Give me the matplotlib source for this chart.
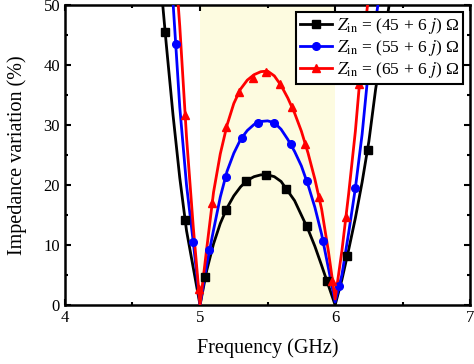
import matplotlib

matplotlib.use("Agg")
import matplotlib.pyplot as plt
from matplotlib.ticker import MultipleLocator

plt.rcParams["font.family"] = ["Liberation Serif", "DejaVu Serif"]
plt.rcParams["mathtext.fontset"] = "stix"

# ---------------------------------------------------------------- data
LABELS = [r"$Z_\mathrm{in}$ = (45 + 6 $j$) Ω",
          r"$Z_\mathrm{in}$ = (55 + 6 $j$) Ω",
          r"$Z_\mathrm{in}$ = (65 + 6 $j$) Ω"]

# curve 45+6j
F45 = [4.70, 4.75, 4.80, 4.85, 4.90, 4.95, 5.00, 5.05, 5.10, 5.15, 5.20, 5.25, 5.30, 5.35, 5.40,
       5.45, 5.50, 5.55, 5.60, 5.65, 5.70, 5.75, 5.80, 5.85, 5.90, 5.95, 6.00, 6.05, 6.10, 6.15,
       6.20, 6.25, 6.30, 6.35, 6.40, 6.45]
V45 = [56.0, 43.5, 31.7, 21.2, 12.4, 6.2, 0.0, 5.8, 10.2, 13.6, 16.2, 18.2, 19.7, 20.8, 21.4,
       21.7, 21.7, 21.4, 20.6, 19.0, 17.4, 15.0, 12.6, 9.8, 6.6, 3.3, 0.0, 4.2, 9.2, 14.5,
       20.5, 27.3, 36.0, 43.0, 50.0, 57.0]
MF45 = [4.74, 4.89, 5.04, 5.19, 5.34, 5.49, 5.64, 5.79, 5.94, 6.09, 6.24]
MV45 = [45.5, 14.2, 4.6, 15.8, 20.7, 21.7, 19.3, 13.1, 4.0, 8.2, 25.9]

# curve 55+6j
F55 = [4.75, 4.80, 4.85, 4.90, 4.95, 5.00, 5.05, 5.10, 5.15, 5.20, 5.25, 5.30, 5.35, 5.40, 5.45,
       5.50, 5.55, 5.60, 5.65, 5.70, 5.75, 5.80, 5.85, 5.90, 5.95, 6.00, 6.05, 6.10, 6.15, 6.20,
       6.25, 6.30, 6.35]
V55 = [62.0, 50.5, 33.0, 20.0, 10.5, 0.0, 6.8, 12.5, 18.0, 22.3, 25.3, 27.6, 29.1, 30.1, 30.6,
       30.7, 30.4, 29.3, 27.6, 25.6, 23.2, 20.0, 16.3, 11.8, 6.2, 0.5, 5.0, 12.0, 19.5, 28.5,
       40.0, 47.5, 55.0]
MF55 = [4.82, 4.95, 5.07, 5.19, 5.31, 5.43, 5.55, 5.67, 5.79, 5.91, 6.03, 6.15]
MV55 = [43.5, 10.5, 9.1, 21.4, 27.9, 30.4, 30.4, 26.8, 20.7, 10.7, 3.2, 19.5]

# curve 65+6j
F65 = [4.80, 4.85, 4.90, 4.95, 5.00, 5.05, 5.10, 5.15, 5.20, 5.25, 5.30, 5.35, 5.40, 5.45, 5.50,
       5.55, 5.60, 5.65, 5.70, 5.75, 5.80, 5.85, 5.90, 5.95, 6.00, 6.05, 6.10, 6.15, 6.20, 6.25]
V65 = [62.0, 46.5, 28.0, 13.0, 0.0, 9.5, 18.8, 25.2, 30.0, 33.6, 36.0, 37.5, 38.4, 38.9, 39.0,
       38.2, 36.6, 34.5, 32.0, 29.0, 25.3, 21.0, 16.0, 9.0, 1.0, 9.0, 18.5, 29.0, 42.0, 52.0]
MF65 = [4.89, 4.99, 5.09, 5.19, 5.29, 5.39, 5.49, 5.59, 5.68, 5.78, 5.88, 5.98, 6.08, 6.18]
MV65 = [31.7, 2.6, 17.0, 29.6, 35.5, 37.8, 38.9, 36.9, 33.0, 26.8, 18.0, 4.0, 14.7, 36.8]

BAND = (5.0, 6.0)

# ---------------------------------------------------------------- figure
fig = plt.figure(figsize=(4.74, 3.64), dpi=100)
ax = fig.add_axes([0.137, 0.162, 0.855, 0.824])

ax.axvspan(*BAND, color="#fdfbe0", zorder=0, lw=0)

series = [
    (F45, V45, MF45, MV45, "black", "s"),
    (F55, V55, MF55, MV55, "#0000ff", "o"),
    (F65, V65, MF65, MV65, "#ff0000", "^"),
]
handles = []
for (f, v, mf, mv, col, mk), lab in zip(series, LABELS):
    ax.plot(f, v, "-", color=col, lw=2.0, zorder=3)
    ax.plot(mf, mv, ls="none", marker=mk, color=col, ms=5.5, zorder=4)
    h, = ax.plot([], [], "-", color=col, lw=2.0, marker=mk, ms=5.5, label=lab)
    handles.append(h)

ax.set_xlim(4, 7)
ax.set_ylim(0, 50)
ax.xaxis.set_major_locator(MultipleLocator(1))
ax.xaxis.set_minor_locator(MultipleLocator(0.5))
ax.yaxis.set_major_locator(MultipleLocator(10))
ax.yaxis.set_minor_locator(MultipleLocator(5))
ax.tick_params(which="both", direction="in", top=True, right=True, labelsize=12, width=1.5)
ax.tick_params(which="major", length=4)
ax.tick_params(which="minor", length=2.5)
for s in ax.spines.values():
    s.set_linewidth(1.8)

ax.set_xlabel("Frequency (GHz)", fontsize=14.5, labelpad=9)
ax.set_ylabel("Impedance variation (%)", fontsize=14.5, labelpad=12)

leg = ax.legend(handles=handles, loc="upper right", fontsize=12.5, frameon=True, fancybox=False,
                edgecolor="black", framealpha=1, handlelength=1.8, handletextpad=0.3,
                borderpad=0.25, labelspacing=0.1, borderaxespad=0.4)
leg.get_frame().set_linewidth(1.5)
leg.set_zorder(10)

fig.savefig("out.png", dpi=100)
